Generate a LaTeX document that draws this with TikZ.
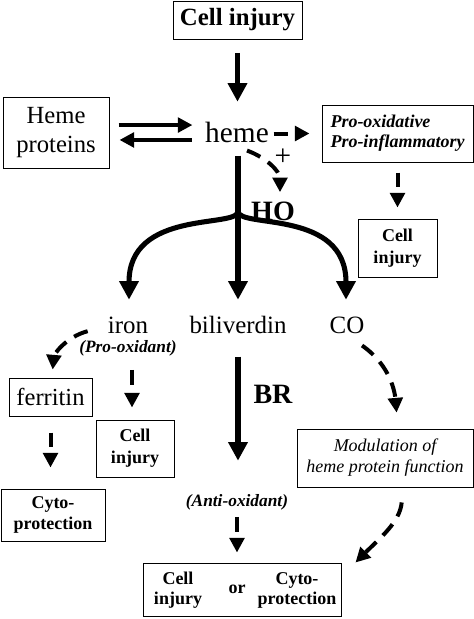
\documentclass[tikz,border=0pt]{standalone}
\usepackage{fontspec}
\setmainfont{Liberation Serif}
\usepackage{tikz}
\usetikzlibrary{arrows.meta}
\newcommand{\fsz}[2]{\fontsize{#1}{#2}\selectfont}

\begin{document}
\begin{tikzpicture}[x=0.75pt, y=-0.75pt,
		box/.style={draw, line width=0.75pt, inner sep=0pt, align=center},%
		lbl/.style={inner sep=0pt, anchor=base},%
		bigarr/.style={line width=3.8pt, -{Triangle[length=14pt,width=14pt]}},%
		medarr/.style={line width=3pt, -{Triangle[length=11pt,width=11pt]}},%
		dasharr/.style={line width=3pt, dash pattern=on 11pt off 7pt, -{Triangle[length=11pt,width=11pt]}},%
		]
	\useasboundingbox (0,0) rectangle (474,619);

	\node[box, minimum width=96.75pt, minimum height=28.5pt, font=\fsz{18.6}{22}\bfseries] (top) at (237.5,20) {Cell injury};
	\node[box, minimum width=79.5pt, minimum height=53.25pt, font=\fsz{18.5}{22}] (hp) at (56,132.5) {Heme\\proteins};
	\node[lbl, text height=15pt, font=\fsz{22}{26}] (heme) at (237,142) {heme};
	\node[box, align=left, minimum width=113.25pt, minimum height=42.75pt, font=\fsz{13.5}{15}\bfseries\itshape] (pro) at (397.5,133.5) {Pro-oxidative\\Pro-inflammatory};
	\node[inner sep=0pt, font=\fsz{22}{26}] (plus) at (283,157) {+};
	\node[lbl, font=\fsz{21}{24}\bfseries] (HO) at (273,220) {HO};
	\node[box, minimum width=59.25pt, minimum height=43.5pt, font=\fsz{13.5}{16.5}\bfseries] (ciR) at (397.5,248) {Cell\\injury};

	\node[lbl, text height=12.75pt, font=\fsz{18.7}{22}] (iron) at (128,333) {iron};
	\node[lbl, text height=12.75pt, font=\fsz{18.7}{22}] (bili) at (238,333) {biliverdin};
	\node[lbl, text height=12.75pt, font=\fsz{18.7}{22}] (CO) at (347,333) {CO};
	\node[lbl, font=\fsz{13}{15}\bfseries\itshape] (pox) at (128,352) {(Pro-oxidant)};

	\node[box, minimum width=62.25pt, minimum height=28.5pt, font=\fsz{18.4}{22}] (fer) at (50.5,397) {ferritin};
	\node[box, minimum width=58.5pt, minimum height=42.75pt, font=\fsz{13.5}{16.5}\bfseries] (ciL) at (135,448.5) {Cell\\injury};
	\node[box, minimum width=78pt, minimum height=39pt, font=\fsz{13.5}{16}\bfseries] (cyto) at (53,515) {Cyto-\\protection};
	\node[lbl, font=\fsz{21}{24}\bfseries] (BR) at (273,403) {BR};
	\node[box, minimum width=132pt, minimum height=43.5pt, font=\fsz{13.5}{15.75}\itshape] (mod) at (385,458) {Modulation of\\heme protein function};
	\node[lbl, font=\fsz{13}{15}\bfseries\itshape] (anti) at (237,506) {(Anti-oxidant)};

	\node[box, minimum width=148.5pt, minimum height=39.75pt] (bot) at (242,589.5) {};
	\node[inner sep=0pt, align=center, font=\fsz{13.5}{15}\bfseries] (bcell) at (178,590) {Cell\\injury};
	\node[lbl, font=\fsz{13.5}{15}\bfseries] (bor) at (237,593) {or};
	\node[inner sep=0pt, align=center, font=\fsz{13.5}{15}\bfseries] (bcyto) at (297,590) {Cyto-\\protection};

	\coordinate (fork) at (238,212);

	\draw[bigarr, shorten <=10pt, shorten >=15pt] (top.south) -- (top.south |- heme.north);
	\draw[medarr, shorten <=6.75pt, shorten >=9.4pt] ([yshift=5.6pt]hp.east) -- ([yshift=5.6pt]hp.east -| heme.west);
	\draw[medarr, shorten <=10pt, shorten >=7.5pt] ([yshift=-5.6pt]hp.east -| heme.west) -- ([yshift=-5.6pt]hp.east);
	\draw[dasharr, shorten <=3.4pt, shorten >=9pt] (pro.west -| heme.east) -- (pro.west);
	\draw[dasharr] ([xshift=7.5pt,yshift=-6pt]heme.south) to[out=-20,in=90] ([xshift=5.25pt,yshift=6.75pt]HO.north);
	\draw[bigarr, shorten <=9.75pt, shorten >=12pt] (heme.south -| fork) -- (bili.north -| fork);
	\draw[bigarr] (fork) .. controls +(-3,16) and +(0,-90) .. ([xshift=0.75pt,yshift=12pt]iron.north);
	\draw[bigarr] (fork) .. controls +(3,16) and +(0,-90) .. ([xshift=-0.75pt,yshift=12pt]CO.north);
	\draw[dasharr, shorten <=7.5pt, shorten >=8.25pt] (pro.south) -- (ciR.north);

	\draw[dasharr, shorten >=6pt] ([xshift=-15pt,yshift=-4.9pt]iron.west) to[out=195,in=85] ([xshift=1.1pt]fer.north);
	\draw[dasharr, shorten <=10.5pt, shorten >=9pt] ([xshift=-2.25pt]ciL.north |- pox.south) -- ([xshift=-2.25pt]ciL.north);
	\draw[dasharr, shorten <=12pt, shorten >=15.75pt] (fer.south) -- (fer.south |- cyto.north);
	\draw[bigarr, shorten <=17.25pt, shorten >=24.75pt] (bili.south) -- (bili.south |- anti.north);
	\draw[dasharr, shorten <=5.25pt, shorten >=7.5pt] (anti.south) -- (anti.south |- bot.north);
	\draw[dasharr, shorten >=12pt] ([xshift=-1.9pt,yshift=-9pt]CO.south east) to[out=-35,in=95] ([xshift=9.75pt]mod.north);
	\draw[dasharr, shorten <=11.25pt] ([xshift=13.5pt]mod.south) to[out=-95,in=45] ([xshift=10.5pt]bot.north east);
\end{tikzpicture}
\end{document}
